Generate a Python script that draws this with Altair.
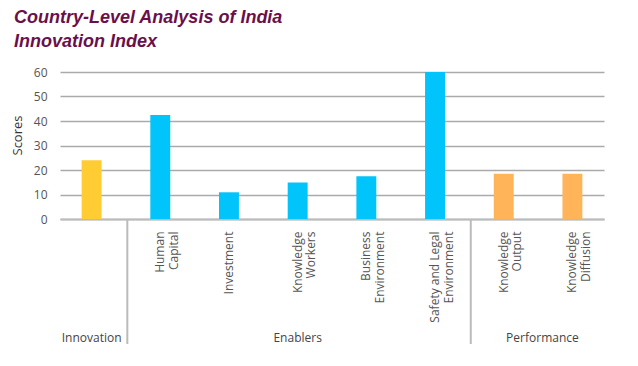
import altair as alt
import pandas as pd

categories = ["Innovation", "Human|Capital", "Investment", "Knowledge|Workers",
              "Business|Environment", "Safety and Legal|Environment",
              "Knowledge|Output", "Knowledge|Diffusion"]
scores = [24.0, 42.4, 10.9, 14.9, 17.5, 60.0, 18.5, 18.5]
groups = ["Innovation", "Enablers", "Enablers", "Enablers", "Enablers", "Enablers",
          "Performance", "Performance"]
group_names = ["Innovation", "Enablers", "Performance"]
group_colors = ["#FFCC33", "#00C4FA", "#FFB45A"]
separators_at = ["Human|Capital", "Knowledge|Output"]
group_anchor_center = [("Innovation", "Innovation"), ("Enablers", "Knowledge|Workers")]
group_anchor_start = [("Performance", "Knowledge|Diffusion")]

W, H = 544, 147

df = pd.DataFrame({"cat": categories, "score": scores, "group": groups})
sep_df = pd.DataFrame({"cat": separators_at})
gc_df = pd.DataFrame(group_anchor_center, columns=["label", "cat"])
gs_df = pd.DataFrame(group_anchor_start, columns=["label", "cat"])

xscale = alt.Scale(domain=categories, paddingInner=0.71, paddingOuter=0.315)

bars = alt.Chart(df).mark_bar().encode(
    x=alt.X("cat:N", sort=categories, scale=xscale,
            axis=alt.Axis(title=None, labelAngle=-90, labelAlign="right",
                          labelBaseline="middle",
                          labelExpr="datum.label == 'Innovation' ? '' : split(datum.label, '|')",
                          labelFont="Open Sans", labelFontSize=12, labelColor="#555555",
                          labelLineHeight=13.5, labelPadding=12, ticks=False,
                          domainColor="#bbbbbb", domainWidth=2, labelLimit=200)),
    y=alt.Y("score:Q", scale=alt.Scale(domain=[0, 60], nice=False),
            axis=alt.Axis(values=[0, 10, 20, 30, 40, 50, 60], title="Scores",
                          titleFont="Open Sans", titleFontSize=13, titleFontWeight="normal",
                          titleColor="#333333", titleX=-36, titleY=63,
                          labelFont="Open Sans", labelFontSize=12, labelColor="#555555",
                          labelPadding=13, ticks=False, domain=False,
                          gridColor="#aaaaaa", gridWidth=1.5)),
    color=alt.Color("group:N", scale=alt.Scale(domain=group_names, range=group_colors),
                    legend=None),
)

seps = alt.Chart(sep_df).mark_rule(color="#bbbbbb", strokeWidth=2, xOffset=-23).encode(
    x=alt.X("cat:N", sort=categories, scale=xscale, bandPosition=0),
    y=alt.value(H),
    y2=alt.value(H + 125),
)

glab1 = alt.Chart(gc_df).mark_text(font="Open Sans", fontSize=12, color="#444444",
                                   baseline="middle").encode(
    x=alt.X("cat:N", sort=categories, scale=xscale, bandPosition=0.5),
    y=alt.value(H + 119),
    text="label:N",
)
glab2 = alt.Chart(gs_df).mark_text(font="Open Sans", fontSize=12, color="#444444",
                                   baseline="middle", dx=-20).encode(
    x=alt.X("cat:N", sort=categories, scale=xscale, bandPosition=0),
    y=alt.value(H + 119),
    text="label:N",
)

chart = alt.layer(bars, seps, glab1, glab2).properties(
    width=W, height=H,
    title=alt.TitleParams(["Country-Level Analysis of India", "Innovation Index"],
                          anchor="start", dx=3, font="Liberation Sans", fontSize=18,
                          fontWeight="bold", fontStyle="italic", color="#6B0F4B",
                          lineHeight=24, offset=15),
    autosize=alt.AutoSizeParams(type="none"),
    padding={"left": 52, "top": 64, "right": 20, "bottom": 137},
).configure_view(stroke=None)

chart.save("out.html", embed_options={"renderer": "svg", "actions": False})
